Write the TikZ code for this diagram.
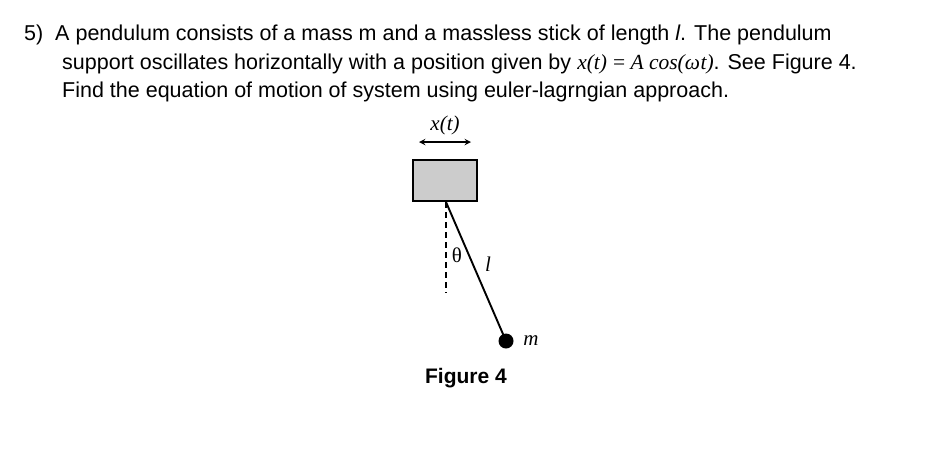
\documentclass[tikz,border=0pt]{standalone}
\usepackage{fontspec}
\setmainfont{Liberation Sans}
\newfontfamily\serifm{Liberation Serif}
\begin{document}
\begin{tikzpicture}[x=1pt,y=-1pt,
  txt/.style={anchor=base west,inner sep=0pt,font=\fontsize{21.5}{24}\selectfont},
  lbl/.style={inner sep=0pt,font=\serifm\itshape\fontsize{21}{24}\selectfont}]
\useasboundingbox (0,0) rectangle (950,472);
\node[txt] (l1) at (24,40) {5)\ \ A pendulum consists of a mass m and a massless stick of length \textit{l}. The pendulum};
\node[txt] (l2) at (62,69) {support oscillates horizontally with a position given by {\serifm\itshape x(t)} {\serifm = \itshape A cos(ω\kern0.5pt t)}. See Figure 4.};
\node[txt] (l3) at (62,97) {Find the equation of motion of system using euler-lagrngian approach.};
\node[lbl] (xt) at (445,125) {x(t)};
\coordinate (a1) at (419,142);
\coordinate (a2) at (471,142);
\draw[line width=1.8pt,<->,>=stealth] (a1) -- (a2);
\node[draw,line width=2pt,fill=black!20,minimum width=64pt,minimum height=41pt,inner sep=0pt] (box) at (445,180.5) {};
\coordinate (piv) at (446,202);
\coordinate (dend) at (446,293);
\draw[line width=1.8pt,dash pattern=on 6pt off 4pt] (piv) -- (dend);
\node[circle,fill=black,inner sep=0pt,minimum size=15pt] (bob) at (506,341) {};
\draw[line width=1.9pt] (piv) -- (bob.center);
\node[inner sep=0pt,font=\serifm\fontsize{21}{24}\selectfont] (th) at (457,255) {θ};
\node[lbl] (ll) at (488,264) {l};
\node[lbl] (mm) at (531,341) {m};
\node[inner sep=0pt,font=\bfseries\fontsize{21}{24}\selectfont] (fig) at (466,378) {Figure 4};
\end{tikzpicture}
\end{document}
